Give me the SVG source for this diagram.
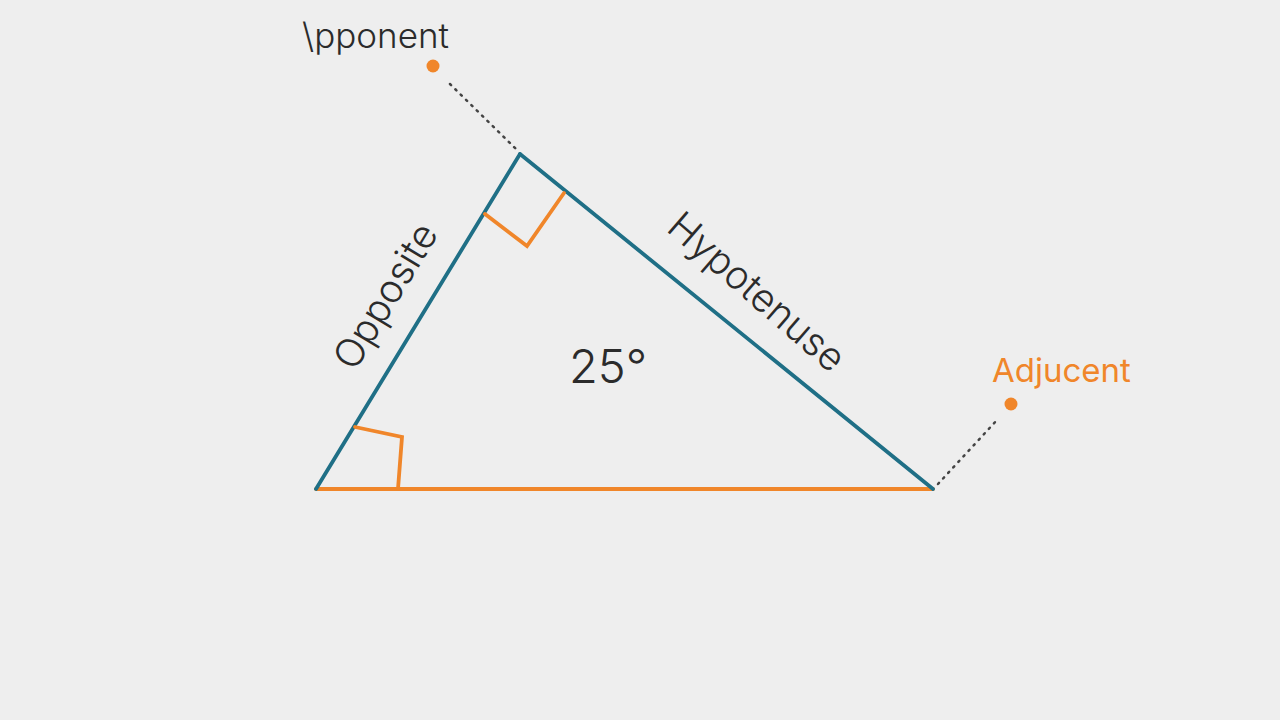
<svg xmlns="http://www.w3.org/2000/svg" width="1280" height="720" viewBox="0 0 1280 720">
<style>
.bg{fill:#eeeeee}
.teal{stroke:#1f6f86;stroke-width:3.8;fill:none;stroke-linecap:round}
.orange{stroke:#f0862a;stroke-width:3.8;fill:none;stroke-linecap:round;stroke-linejoin:miter}
.dot{fill:#f0862a}
.dotted{stroke:#444;stroke-width:2.5;stroke-dasharray:1.5 6;stroke-linecap:round;fill:none}
.lbl{font-family:Inter,"Liberation Sans",sans-serif;fill:#2b2b2b;font-weight:300}
</style>
<rect class="bg" width="1280" height="720"/>
<g id="triangle">
<line class="orange" x1="316" y1="489" x2="933" y2="489"/>
<line class="teal" x1="316" y1="489" x2="520" y2="154"/>
<line class="teal" x1="520" y1="154" x2="933" y2="489"/>
</g>
<g id="right-angle-top">
<polyline class="orange" points="485,214 527,246 564,193"/>
</g>
<g id="right-angle-bottom">
<polyline class="orange" points="355,427 402,437 398,489"/>
</g>
<g id="connectors">
<line class="dotted" x1="450" y1="84" x2="517" y2="150"/>
<line class="dotted" x1="938" y1="484" x2="997" y2="420"/>
</g>
<g id="opponent">
<circle class="dot" cx="433" cy="66" r="6.5"/>
<text class="lbl" x="302" y="48" font-size="35">\pponent</text>
</g>
<g id="adjucent">
<circle class="dot" cx="1011" cy="404" r="6.5"/>
<text class="lbl" x="992" y="382" font-size="33" style="fill:#f0862a;font-weight:400">Adjucent</text>
</g>
<g id="opposite">
<text class="lbl" font-size="39" text-anchor="middle" transform="translate(397,303) rotate(-58.7)">Opposite</text>
</g>
<g id="hypotenuse">
<text class="lbl" font-size="39" text-anchor="middle" transform="translate(748,302) rotate(41)">Hypotenuse</text>
</g>
<g id="angle">
<text class="lbl" x="569" y="383" font-size="47">25°</text>
</g>
</svg>
